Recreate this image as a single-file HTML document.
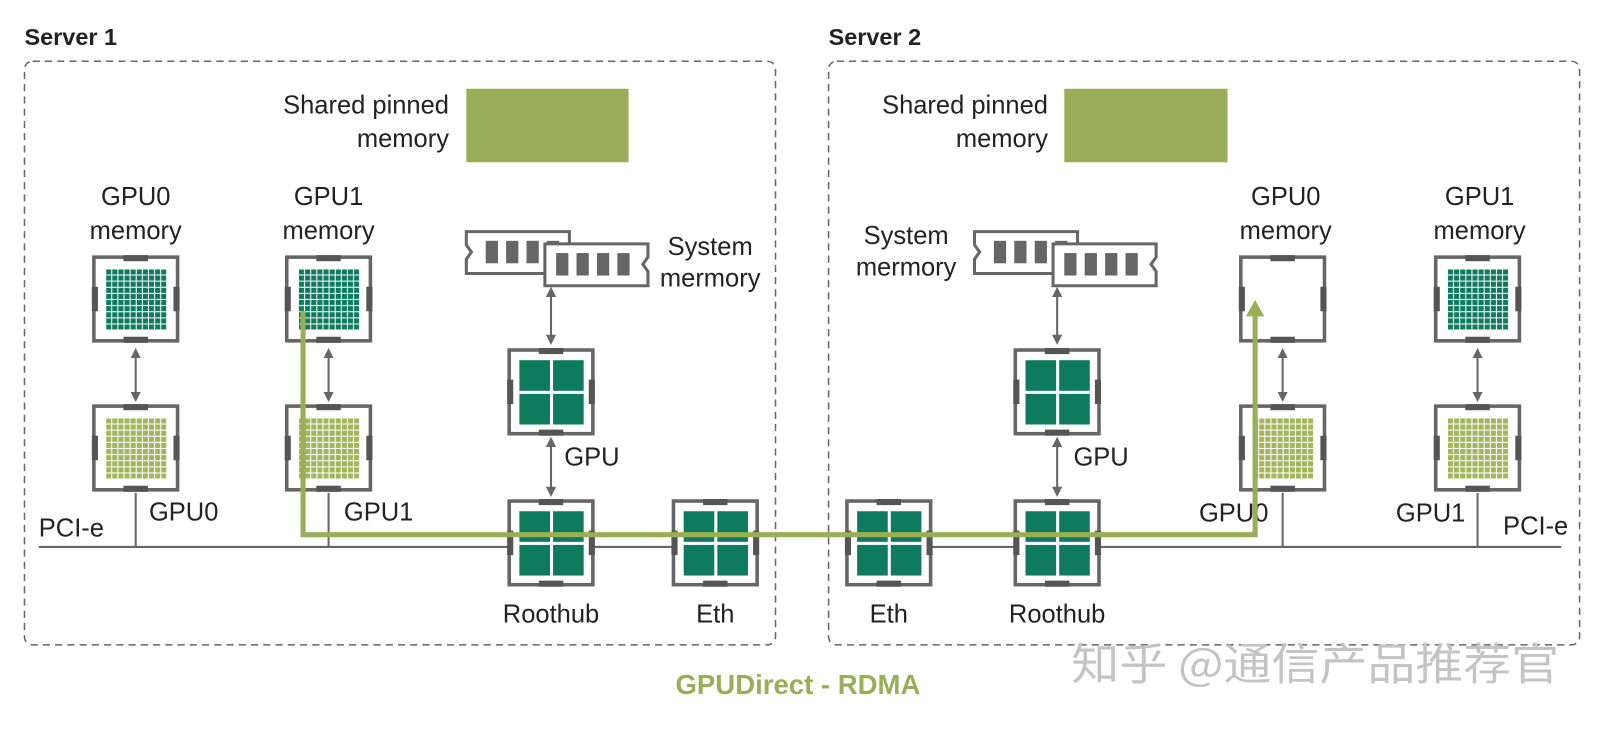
<!DOCTYPE html>
<html><head><style>
html,body{margin:0;padding:0;background:#fff;width:1600px;height:729px;overflow:hidden}
svg text{font-family:"Liberation Sans","Noto Sans CJK SC",sans-serif;fill:#222}
</style></head><body>
<svg width="1600" height="729" viewBox="0 0 1568 714.4" preserveAspectRatio="none" xmlns="http://www.w3.org/2000/svg">
<defs>
<pattern id="gd" x="14" y="14" width="6" height="6" patternUnits="userSpaceOnUse"><rect width="5" height="5" fill="#0e7a5e"/></pattern>
<pattern id="gl" x="14" y="14" width="6" height="6" patternUnits="userSpaceOnUse"><rect width="5" height="5" fill="#a4b55c"/></pattern>
<g id="frame">
<rect x="2" y="2" width="82" height="82" fill="#fff" stroke="#666" stroke-width="3.5"/>
<rect x="31" y="0" width="24" height="6" fill="#555"/>
<rect x="31" y="80" width="24" height="6" fill="#555"/>
<rect x="0" y="31" width="6" height="24" fill="#555"/>
<rect x="80" y="31" width="6" height="24" fill="#555"/>
</g>
<g id="memd"><use href="#frame"/><rect x="14" y="14" width="59" height="59" fill="url(#gd)"/></g>
<g id="meml"><use href="#frame"/><rect x="14" y="14" width="59" height="59" fill="url(#gl)"/></g>
<g id="memw"><use href="#frame"/></g>
<g id="cpu"><use href="#frame"/>
<rect x="12" y="12" width="30" height="30" fill="#0e7a5e"/><rect x="45" y="12" width="30" height="30" fill="#0e7a5e"/>
<rect x="12" y="45" width="30" height="30" fill="#0e7a5e"/><rect x="45" y="45" width="30" height="30" fill="#0e7a5e"/></g>
<g id="ram">
<path d="M1 1 H102 V42 H1 V28 L6 21 L1 14 Z" fill="#fff" stroke="#666" stroke-width="3"/>
<rect x="20" y="10" width="12" height="22" fill="#666"/><rect x="40" y="10" width="12" height="22" fill="#666"/>
<rect x="60" y="10" width="12" height="22" fill="#666"/><rect x="80" y="10" width="12" height="22" fill="#666"/>
</g>
<g id="ram2">
<path d="M1 1 H102 V14 L97 21 L102 28 V42 H1 Z" fill="#fff" stroke="#666" stroke-width="3"/>
<rect x="12" y="10" width="12" height="22" fill="#666"/><rect x="32" y="10" width="12" height="22" fill="#666"/>
<rect x="52" y="10" width="12" height="22" fill="#666"/><rect x="72" y="10" width="12" height="22" fill="#666"/>
</g>
<marker id="ah" viewBox="0 0 10 10" refX="5" refY="5" markerWidth="5" markerHeight="5" orient="auto-start-reverse"><path d="M0 0 L10 5 L0 10 Z" fill="#666"/></marker>
</defs>

<text x="24" y="44" font-size="23" font-weight="bold">Server 1</text>
<text x="812" y="44" font-size="23" font-weight="bold">Server 2</text>
<rect x="24" y="60" width="736" height="572" rx="8" fill="none" stroke="#666" stroke-width="1.5" stroke-dasharray="7,5"/>
<rect x="812" y="60" width="736" height="572" rx="8" fill="none" stroke="#666" stroke-width="1.5" stroke-dasharray="7,5"/>

<rect x="457" y="87" width="159" height="72" fill="#9aae5a"/>
<rect x="1043" y="87" width="160" height="72" fill="#9aae5a"/>
<g font-size="25" text-anchor="end">
<text x="440" y="111">Shared pinned</text><text x="440" y="144">memory</text>
<text x="1027" y="111">Shared pinned</text><text x="1027" y="144">memory</text>
</g>
<g font-size="25" text-anchor="middle">
<text x="133" y="201">GPU0</text><text x="133" y="234">memory</text>
<text x="322" y="201">GPU1</text><text x="322" y="234">memory</text>
<text x="1260" y="201">GPU0</text><text x="1260" y="234">memory</text>
<text x="1450" y="201">GPU1</text><text x="1450" y="234">memory</text>
<text x="696" y="250">System</text><text x="696" y="281">mermory</text>
<text x="888" y="239">System</text><text x="888" y="270">mermory</text>
<text x="540" y="610">Roothub</text><text x="701" y="610">Eth</text>
<text x="871" y="610">Eth</text><text x="1036" y="610">Roothub</text>
</g>
<g font-size="25">
<text x="146" y="510">GPU0</text><text x="337" y="510">GPU1</text><text x="38" y="526">PCI-e</text>
<text x="553" y="456">GPU</text><text x="1052" y="456">GPU</text>
<text x="1175" y="511">GPU0</text><text x="1368" y="511">GPU1</text><text x="1473" y="524">PCI-e</text>
</g>

<g stroke="#666" stroke-width="2" fill="none">
<path d="M38 536 H700"/><path d="M871 536 H1530"/>
<path d="M133 483 V536"/><path d="M322 483 V536"/>
<path d="M1257 483 V536"/><path d="M1448 483 V536"/>
</g>
<g stroke="#666" stroke-width="2" marker-start="url(#ah)" marker-end="url(#ah)">
<line x1="133" y1="346" x2="133" y2="389"/><line x1="322" y1="346" x2="322" y2="389"/>
<line x1="540" y1="286" x2="540" y2="333"/><line x1="540" y1="433" x2="540" y2="482"/>
<line x1="1036" y1="286" x2="1036" y2="333"/><line x1="1036" y1="433" x2="1036" y2="482"/>
<line x1="1257" y1="346" x2="1257" y2="389"/><line x1="1448" y1="346" x2="1448" y2="389"/>
</g>

<use href="#memd" x="90" y="250"/><use href="#meml" x="90" y="396"/>
<use href="#memd" x="279" y="250"/><use href="#meml" x="279" y="396"/>
<use href="#cpu" x="497" y="341"/><use href="#cpu" x="497" y="489"/><use href="#cpu" x="658" y="489"/>
<use href="#cpu" x="828" y="489"/><use href="#cpu" x="993" y="489"/><use href="#cpu" x="993" y="341"/>
<use href="#memw" x="1214" y="250"/><use href="#meml" x="1214" y="396"/>
<use href="#memd" x="1405" y="250"/><use href="#meml" x="1405" y="396"/>
<use href="#ram" x="456" y="226"/><use href="#ram2" x="533" y="238"/>
<use href="#ram" x="954" y="226"/><use href="#ram2" x="1031" y="238"/>

<path d="M297 305 V524 H1230 V306" fill="none" stroke="#9aae5a" stroke-width="5"/>
<path d="M1221 310 L1230 294 L1239 310 Z" fill="#9aae5a"/>

<text x="782" y="680" font-size="27" font-weight="bold" text-anchor="middle" style="fill:#9aae5a">GPUDirect - RDMA</text>
<text x="1050" y="666" font-size="43" textLength="478" lengthAdjust="spacingAndGlyphs" style="fill:#c4c4c4;font-family:'Noto Sans CJK SC',sans-serif">知乎 @通信产品推荐官</text>
</svg>
</body></html>
